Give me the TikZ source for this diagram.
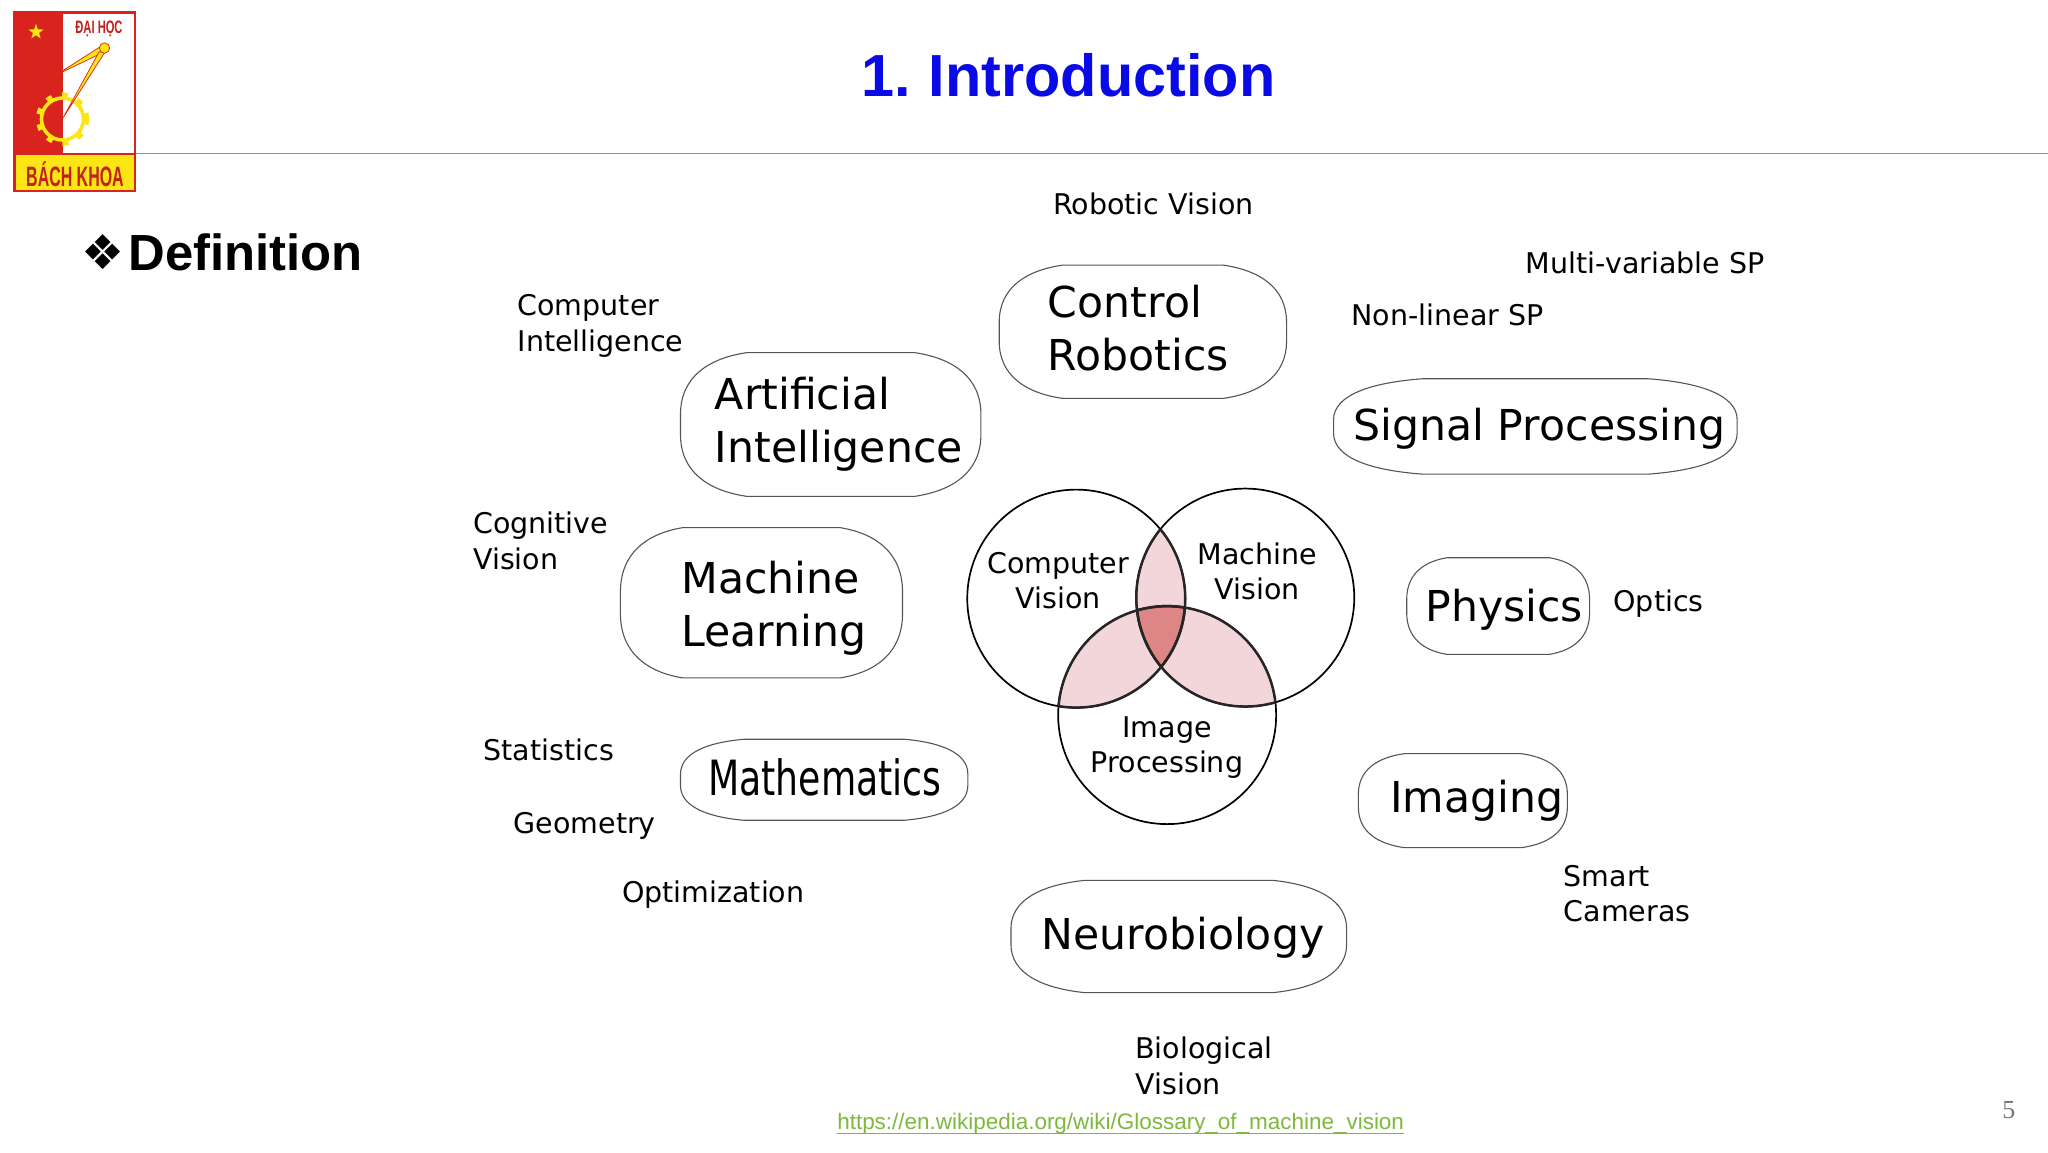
\documentclass[tikz,border=0pt]{standalone}
\usepackage{fontspec}
\usetikzlibrary{shapes.geometric}
\setmainfont{DejaVu Sans}
\newfontfamily\arialf{Liberation Sans}
\newfontfamily\timesf{Liberation Serif}
\definecolor{lensc}{HTML}{F2D6D9}
\definecolor{corec}{HTML}{DE8585}
\definecolor{rulec}{HTML}{7396CF}
\definecolor{logored}{HTML}{D8241C}
\definecolor{logoyel}{HTML}{FBE514}
\definecolor{titleb}{HTML}{0A0AE6}
\definecolor{urlg}{HTML}{7DB93C}
\definecolor{blobc}{HTML}{555555}
\newcommand{\blobshape}[4]{%
  \pgfmathsetmacro{\ba}{0.22*(#3-#1)}%
  \pgfmathsetmacro{\bh}{#4-#2}%
  \pgfmathsetmacro{\xa}{#1+\ba}\pgfmathsetmacro{\xb}{#3-\ba}%
  \pgfmathsetmacro{\xc}{#1+0.42*\ba}\pgfmathsetmacro{\xd}{#3-0.42*\ba}%
  \pgfmathsetmacro{\ya}{#2+0.04*\bh}\pgfmathsetmacro{\yb}{#2+0.17*\bh}\pgfmathsetmacro{\yc}{#2+0.43*\bh}%
  \pgfmathsetmacro{\yd}{#4-0.43*\bh}\pgfmathsetmacro{\ye}{#4-0.17*\bh}\pgfmathsetmacro{\yf}{#4-0.04*\bh}%
  \draw[blobline] (\xa,#2) -- (\xb,#2) .. controls (\xd,\ya) and (#3,\yb) .. (#3,\yc)
    -- (#3,\yd) .. controls (#3,\ye) and (\xd,\yf) .. (\xb,#4)
    -- (\xa,#4) .. controls (\xc,\yf) and (#1,\ye) .. (#1,\yd)
    -- (#1,\yc) .. controls (#1,\yb) and (\xc,\ya) .. (\xa,#2) -- cycle;}
\tikzset{
  blobline/.style={draw=blobc,line width=0.55pt},
  bigtext/.style={inner sep=0pt,anchor=west,align=left,font=\fontsize{21.3}{26.6}\selectfont},
  smalltext/.style={inner sep=0pt,anchor=west,align=left,font=\fontsize{14.25}{17.7}\selectfont},
  venntext/.style={inner sep=0pt,align=center,font=\fontsize{14.25}{17.7}\selectfont},
  ringline/.style={draw=black,line width=0.85pt},
  lensline/.style={draw=black!85,line width=1.25pt},
}
\begin{document}
\begin{tikzpicture}[x=0.65306pt,y=-0.65306pt]
\useasboundingbox (0,0) rectangle (1568,882);
\fill[white] (0,0) rectangle (1568,882);

% logo (pixel units of the full-size picture)
\begin{scope}[x=0.5pt,y=-0.5pt]
  \fill[logored] (12.5,11) rectangle (136,192);
  \fill[white] (63,14) rectangle (133.5,153);
  \fill[logoyel] (15.5,155) rectangle (133.5,189.5);
  \fill[logoyel] (57,155) -- (63,161) -- (69,155) -- cycle;
  \node[inner sep=0pt,star,star points=5,star point ratio=2.5,fill=logoyel,minimum size=8pt] (lstar) at (36,32) {};
  \draw[logoyel,line width=1.8pt] (62.5,119) circle (10.5pt);
  \draw[logoyel,line width=2.2pt,dash pattern=on 3pt off 5.2pt] (62.5,119) circle (12.2pt);
  \filldraw[fill=logoyel,draw=logored,line width=0.35pt] (103,45) -- (56,75) -- (104,52) -- cycle;
  \filldraw[fill=logoyel,draw=logored,line width=0.35pt] (99,52) -- (63,118) -- (105,52) -- cycle;
  \filldraw[fill=logoyel,draw=logored,line width=0.35pt] (104.5,48) circle (2.6pt);
  \node[inner sep=0pt,text=logored!90!black,font=\arialf\bfseries\fontsize{9}{9}\selectfont] (ldh) at (99,29) {\scalebox{0.62}[1]{ĐẠI HỌC}};
  \node[inner sep=0pt,text=logored!90!black,font=\arialf\bfseries\fontsize{14}{14}\selectfont] (lbk) at (75,174) {\scalebox{0.57}[1]{BÁCH KHOA}};
\end{scope}
\coordinate (ruleL) at (104,117.5);
\coordinate (ruleR) at (1568,117.5);
\draw[rulec,line width=0.6pt] (ruleL) -- (ruleR);

\node[inner sep=0pt,text=titleb,font=\arialf\bfseries\fontsize{29.7}{31}\selectfont] (title) at (818,58) {1.\hspace*{0.3em}Introduction};
\node[inner sep=0pt,anchor=west,font=\fontsize{24}{25}\selectfont] (bullet) at (62,193) {❖};
\node[inner sep=0pt,anchor=west,font=\arialf\bfseries\fontsize{25.4}{26}\selectfont] (defn) at (98,193) {Definition};

% blobs
\blobshape{765}{203}{985}{305}
\blobshape{521}{270}{751}{380}
\blobshape{1021}{290}{1330}{363}
\blobshape{475}{404}{691}{519}
\blobshape{1077}{427}{1217}{501}
\blobshape{521}{566}{741}{628}
\blobshape{1040}{577}{1200}{649}
\blobshape{774}{674}{1031}{760}

\node[bigtext] (tcr) at (802,251.5) {Control\\Robotics};
\node[bigtext] (tai) at (547,325) {Artificial\\Intelligence};
\node[bigtext] (tsp) at (1036,328) {Signal Processing};
\node[bigtext] (tml) at (521.5,465.5) {Machine\\Learning};
\node[bigtext] (tph) at (1091,467) {Physics};
\node[bigtext] (tma) at (542,595) {\scalebox{0.85}[1.14]{Mathematics}};
\node[bigtext] (tim) at (1064,613) {Imaging};
\node[bigtext] (tne) at (797,718) {Neurobiology};

% small labels
\node[smalltext] (l1) at (806,156) {Robotic Vision};
\node[smalltext] (l2) at (1168,201) {Multi-variable SP};
\node[smalltext] (l3) at (1034.5,241) {Non-linear SP};
\node[smalltext] (l4) at (396,249.5) {Computer\\Intelligence};
\node[smalltext] (l5) at (362,414) {Cognitive\\Vision};
\node[smalltext] (l6) at (1235,462.5) {Optics};
\node[smalltext] (l7) at (370,574) {Statistics};
\node[smalltext] (l8) at (393,632) {Geometry};
\node[smalltext] (l9) at (476,685) {Optimization};
\node[smalltext] (l10) at (1197,684) {Smart\\Cameras};
\node[smalltext] (l11) at (869,816) {Biological\\Vision};

% venn
\def\rad{54.5pt}
\begin{scope}
  \clip (824,458.3) circle (\rad);
  \fill[lensc] (953.4,457.5) circle (\rad);
  \fill[lensc] (893.6,547.5) circle (\rad);
\end{scope}
\begin{scope}
  \clip (953.4,457.5) circle (\rad);
  \fill[lensc] (893.6,547.5) circle (\rad);
  \clip (893.6,547.5) circle (\rad);
  \clip (824,458.3) circle (\rad);
  \fill[corec] (824,458.3) circle (\rad);
\end{scope}
\node[ringline,circle,minimum size=109pt,inner sep=0pt] (cv) at (824,458.3) {};
\node[ringline,circle,minimum size=109pt,inner sep=0pt] (mv) at (953.4,457.5) {};
\node[ringline,circle,minimum size=109pt,inner sep=0pt] (ip) at (893.6,547.5) {};
\begin{scope}
  \clip (824,458.3) circle (\rad);
  \draw[lensline] (953.4,457.5) circle (\rad);
  \draw[lensline] (893.6,547.5) circle (\rad);
\end{scope}
\begin{scope}
  \clip (953.4,457.5) circle (\rad);
  \draw[lensline] (824,458.3) circle (\rad);
  \draw[lensline] (893.6,547.5) circle (\rad);
\end{scope}
\begin{scope}
  \clip (893.6,547.5) circle (\rad);
  \draw[lensline] (824,458.3) circle (\rad);
  \draw[lensline] (953.4,457.5) circle (\rad);
\end{scope}
\node[venntext] (vcv) at (810,444.5) {Computer\\Vision};
\node[venntext] (vmv) at (962.5,437.5) {Machine\\Vision};
\node[venntext] (vip) at (893.5,572.5) {Image\\Processing};

\node[inner sep=0pt,anchor=base,text=urlg,font=\arialf\fontsize{11.23}{12}\selectfont] (url) at (858,864.5) {https://en.wikipedia.org/wiki/Glossary\_of\_machine\_vision};
\draw[urlg,line width=0.5pt] ([yshift=-2pt]url.base west) -- ([yshift=-2pt]url.base east);
\node[inner sep=0pt,text=black!55,font=\timesf\fontsize{13}{14}\selectfont] (page) at (1538,850) {5};
\end{tikzpicture}
\end{document}
